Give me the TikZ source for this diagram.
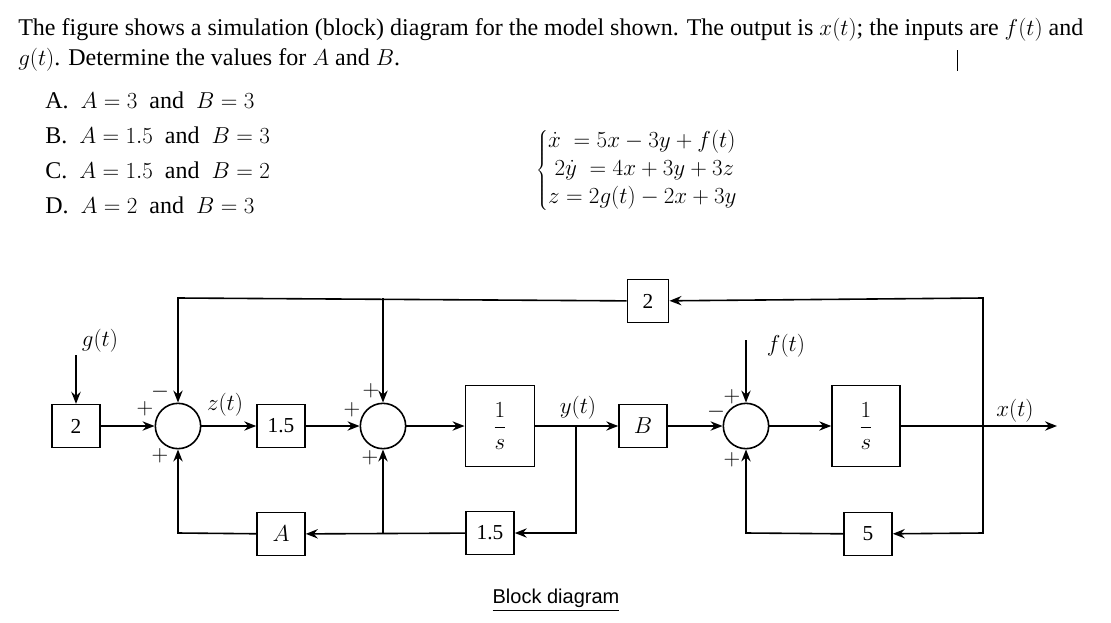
\documentclass[tikz,border=0pt]{standalone}
\usepackage{fontspec}
\setmainfont{Liberation Serif}
\newfontfamily\arialf{Liberation Sans}
\usetikzlibrary{arrows.meta}
\begin{document}
\begin{tikzpicture}[x=0.75pt,y=-0.75pt,
  blk/.style={draw,line width=1.2pt,minimum width=36pt,minimum height=32pt,inner sep=0pt,font=\fontsize{16}{18}\selectfont},
  sm/.style={draw,circle,line width=1.2pt,minimum size=34pt,inner sep=0pt},
  ln/.style={line width=1.2pt},
  ar/.style={line width=1.2pt,-{Stealth[length=9pt,width=7pt,inset=3pt]}},
  lab/.style={font=\fontsize{16.5}{18}\selectfont,inner sep=1pt},
  sg/.style={font=\fontsize{16}{18}\selectfont,inner sep=0pt},
  txt/.style={anchor=west,inner sep=0pt,font=\fontsize{18}{21}\selectfont}]
\useasboundingbox (0,0) rectangle (1111,622);
% text
\node[txt] (t1) at (18,30) {The figure shows a simulation (block) diagram for the model shown. The output is $x(t)$; the inputs are $f(t)$ and};
\node[txt] (t2) at (18,60) {$g(t)$. Determine the values for $A$ and $B$.};
\coordinate (c1) at (957,50); \coordinate (c2) at (957,71);
\draw[line width=0.6pt] (c1) -- (c2);
\node[txt] (oa) at (45,100) {A.\ \ $A=3$\ \ and\ \ $B=3$};
\node[txt] (ob) at (45,135) {B.\ \ $A=1.5$\ \ and\ \ $B=3$};
\node[txt] (oc) at (45,170) {C.\ \ $A=1.5$\ \ and\ \ $B=2$};
\node[txt] (od) at (45,205) {D.\ \ $A=2$\ \ and\ \ $B=3$};
\node[anchor=west,inner sep=0pt,font=\fontsize{18.5}{21}\selectfont] (eq) at (536,170)
 {$\left\{\begin{array}{@{}l@{}}\dot{x}\;=5x-3y+f(t)\\ \;2\dot{y}\;=4x+3y+3z\\ z=2g(t)-2x+3y\end{array}\right.$};
% blocks
\node[blk] (b2) at (76,426) {2};
\node[sm] (s1) at (178,426) {};
\node[blk] (b15) at (281,426) {1.5};
\node[sm] (s2) at (383,426) {};
\node[blk,minimum width=52pt,minimum height=61pt] (i1) at (500,426) {$\displaystyle\frac{1}{s}$};
\node[blk] (bB) at (643,426) {$B$};
\node[sm] (s3) at (746,426) {};
\node[blk,minimum width=51pt,minimum height=61pt] (i2) at (866,426) {$\displaystyle\frac{1}{s}$};
\node[blk,minimum width=31pt] (b2t) at (648,301) {2};
\node[blk] (bA) at (281,534) {$A$};
\node[blk] (b15b) at (490,533) {1.5};
\node[blk] (b5) at (868,534) {5};
\coordinate (gin) at (76,355);
\coordinate (fin) at (746,340);
\coordinate (yb) at (576,426);
\coordinate (xb) at (983,426);
\coordinate (xo) at (1057,426);
\coordinate (tr) at (983,298);
\coordinate (tl) at (178,298);
\coordinate (tm) at (383,298);
\coordinate (ybb) at (576,533);
\coordinate (bm) at (383,533);
\coordinate (bl) at (178,533);
\coordinate (xbb) at (983,533);
\coordinate (br) at (746,533);
% forward path
\draw[ar] (gin) -- (b2);
\draw[ar] (b2) -- (s1);
\draw[ar] (s1) -- (b15);
\draw[ar] (b15) -- (s2);
\draw[ar] (s2) -- (i1);
\draw[ar] (i1) -- (bB);
\draw[ar] (bB) -- (s3);
\draw[ar] (fin) -- (s3);
\draw[ar] (s3) -- (i2);
\draw[ar] (i2) -- (xo);
% top feedback
\draw[ar] (xb) -- (tr) -- (b2t);
\draw[ar] (b2t) -- (tl) -- (s1);
\draw[ar] (tm) -- (s2);
% bottom feedbacks
\draw[ar] (yb) -- (ybb) -- (b15b);
\draw[ar] (b15b) -- (bA);
\draw[ar] (bm) -- (s2);
\draw[ar] (bA) -- (bl) -- (s1);
\draw[ar] (xb) -- (xbb) -- (b5);
\draw[ar] (b5) -- (br) -- (s3);
% labels
\node[lab] (lg) at (100,341) {$g(t)$};
\node[lab] (lf) at (786,346) {$f(t)$};
\node[lab] (lz) at (225,405) {$z(t)$};
\node[lab] (ly) at (578,408) {$y(t)$};
\node[lab] (lx) at (1015,411) {$x(t)$};
\node[sg] (p1) at (145,409) {$+$};
\node[sg] (m1) at (160,392) {$-$};
\node[sg] (p2) at (160,456) {$+$};
\node[sg] (p3) at (352,410) {$+$};
\node[sg] (p4) at (371,391) {$+$};
\node[sg] (p5) at (370,458) {$+$};
\node[sg] (p6) at (732,397) {$+$};
\node[sg] (m2) at (716,412) {$-$};
\node[sg] (p7) at (732,460) {$+$};
\node[inner sep=0pt,font=\arialf\fontsize{15}{17}\selectfont] (bd) at (556,600) {\underline{Block diagram}};
\end{tikzpicture}
\end{document}
